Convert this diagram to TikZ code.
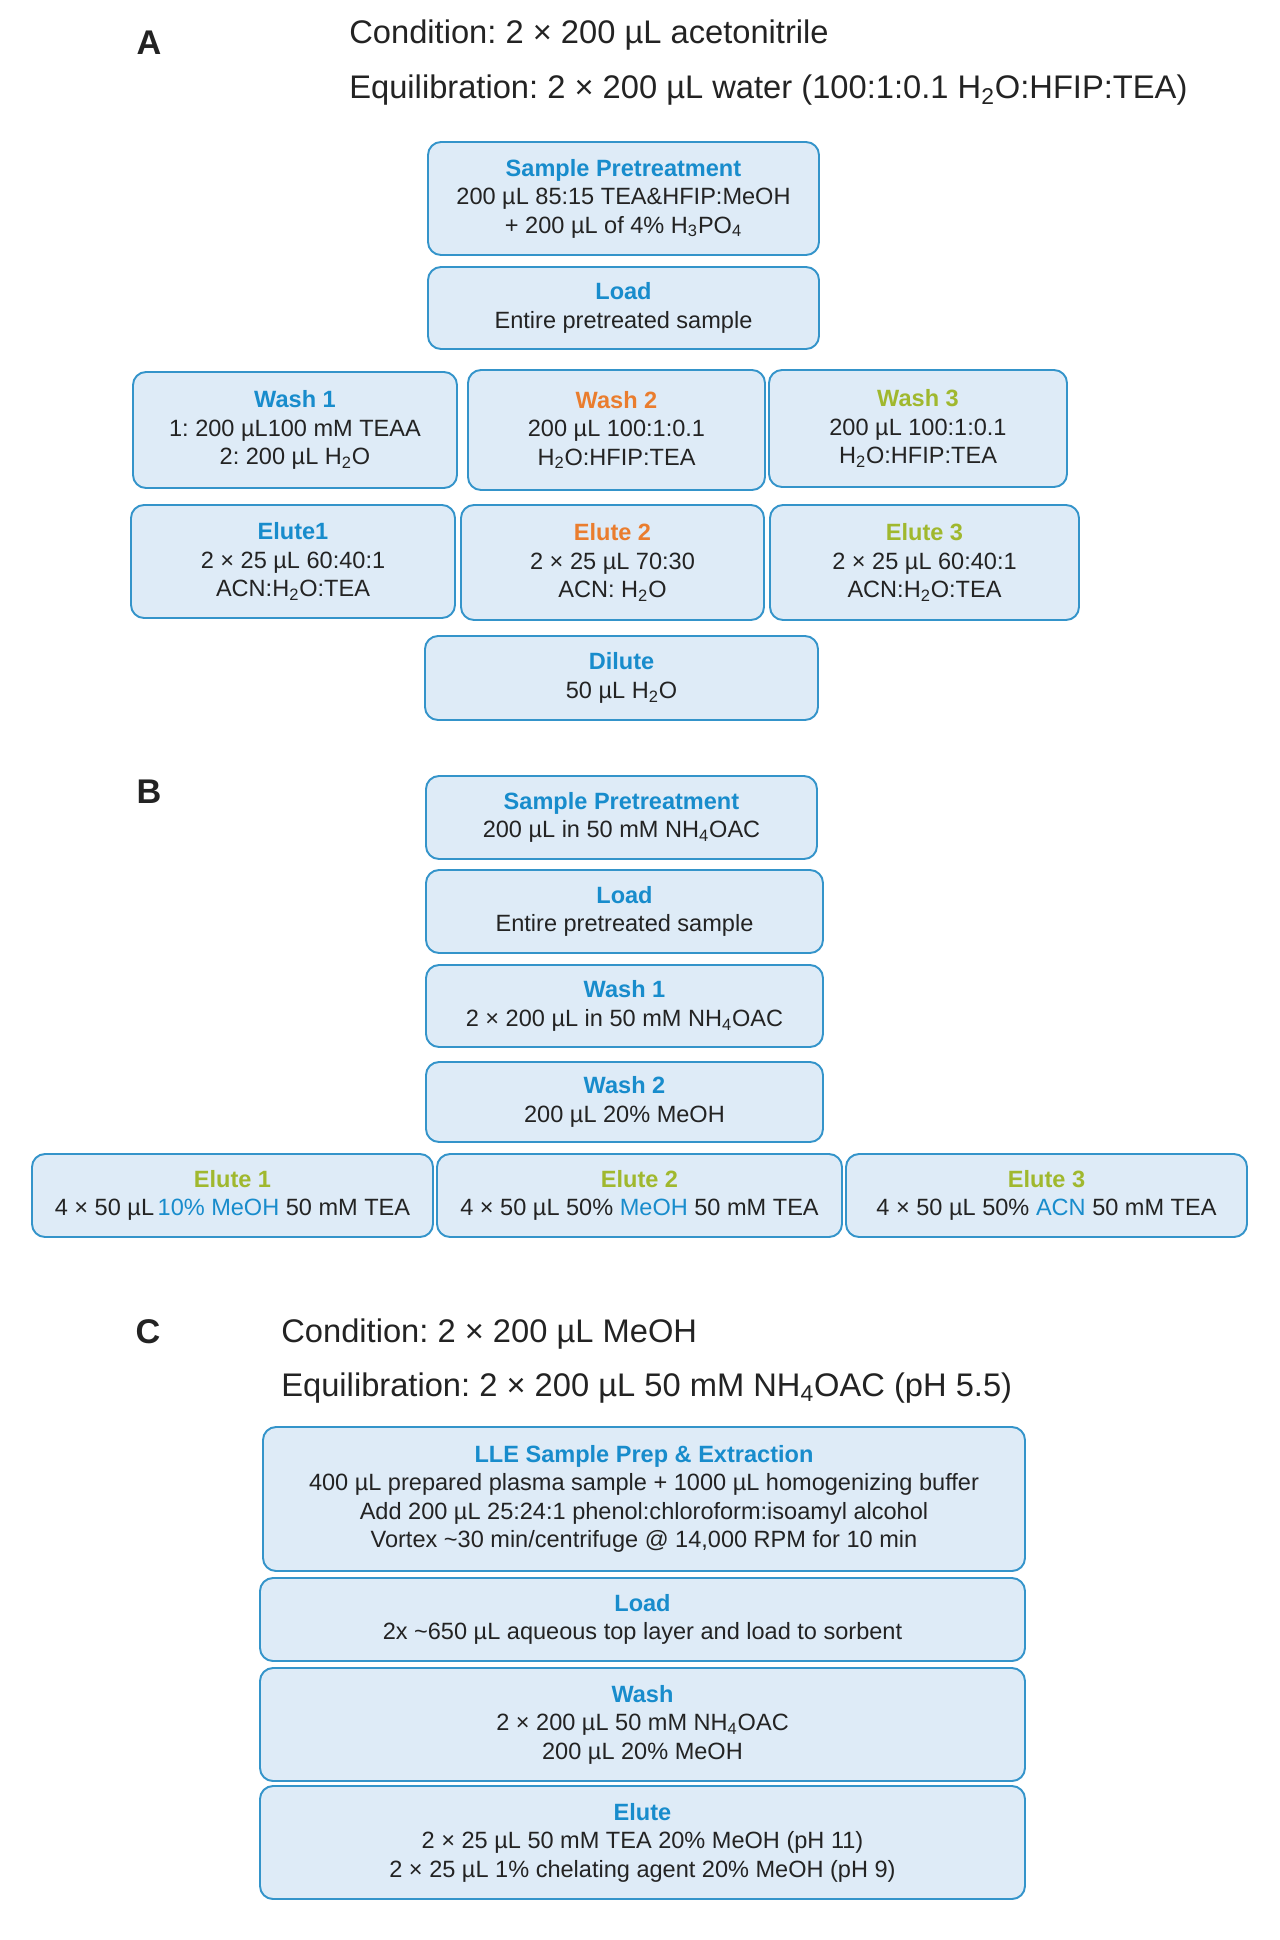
\documentclass[tikz,border=0pt]{standalone}
\usepackage{fontspec}
\setmainfont{Liberation Sans}
\frenchspacing

\definecolor{stepblue}{RGB}{24,140,204}
\definecolor{steporange}{RGB}{234,125,46}
\definecolor{stepgreen}{RGB}{160,184,46}
\definecolor{boxfill}{RGB}{222,235,247}
\definecolor{boxline}{RGB}{52,148,202}
\definecolor{bodytext}{RGB}{35,35,35}

\newcommand{\ssub}[1]{\textsubscript{#1}}
\newcommand{\steptitle}[2]{{\bfseries\color{#1}#2}}

\begin{document}
\begin{tikzpicture}[x=0.02cm, y=-0.02cm,
    every node/.style={font=\fontsize{13.4}{16.2}\selectfont, text=bodytext},
    panelbox/.style 2 args={draw=boxline, fill=boxfill, line width=1.1pt, rounded corners=7.4pt,
        align=center, inner sep=0pt, minimum width=#1*0.02cm, minimum height=#2*0.02cm},
    headline/.style={anchor=base west, inner sep=0pt, font=\fontsize{18.6}{22}\selectfont},
    panellabel/.style={font=\fontsize{19.5}{22}\selectfont\bfseries}]
    \useasboundingbox (0,0) rectangle (1280,1940);

    % Panel A: conditioning
    \node[panellabel] (labA) at (149,43) {A};
    \node[headline] (condA) at (349,44) {Condition: 2 × 200 µL acetonitrile};
    \node[headline] (equiA) at (349,99) {Equilibration: 2 × 200 µL water (100:1:0.1 H\ssub{2}O:HFIP:TEA)};

    % Panel A: pretreatment and load
    \node[panelbox={391}{113}] (aPre) at (623.5,198.5) {\steptitle{stepblue}{Sample Pretreatment}\\ 200 µL 85:15 TEA\&HFIP:MeOH\\ + 200 µL of 4\% H\ssub{3}PO\ssub{4}};
    \node[panelbox={391}{82}] (aLoad) at (623.5,308) {\steptitle{stepblue}{Load}\\ Entire pretreated sample};

    % Panel A: washes
    \node[panelbox={324}{116}] (aWashA) at (295,430) {\steptitle{stepblue}{Wash 1}\\ 1: 200 µL100 mM TEAA\\ 2: 200 µL H\ssub{2}O};
    \node[panelbox={297}{120}] (aWashB) at (616.5,430) {\steptitle{steporange}{Wash 2}\\ 200 µL 100:1:0.1\\ H\ssub{2}O:HFIP:TEA};
    \node[panelbox={298}{117}] (aWashC) at (918,428.5) {\steptitle{stepgreen}{Wash 3}\\ 200 µL 100:1:0.1\\ H\ssub{2}O:HFIP:TEA};

    % Panel A: elutions
    \node[panelbox={324}{113}] (aEluteA) at (293,561.5) {\steptitle{stepblue}{Elute1}\\ 2 × 25 µL 60:40:1\\ ACN:H\ssub{2}O:TEA};
    \node[panelbox={303}{115}] (aEluteB) at (612.5,562.5) {\steptitle{steporange}{Elute 2}\\ 2 × 25 µL 70:30\\ ACN: H\ssub{2}O};
    \node[panelbox={309}{115}] (aEluteC) at (924.5,562.5) {\steptitle{stepgreen}{Elute 3}\\ 2 × 25 µL 60:40:1\\ ACN:H\ssub{2}O:TEA};

    % Panel A: dilution
    \node[panelbox={393}{84}] (aDilute) at (621.5,678) {\steptitle{stepblue}{Dilute}\\ 50 µL H\ssub{2}O};

    % Panel B: single column of steps
    \node[panellabel] (labB) at (149,792) {B};
    \node[panelbox={391}{83}] (bPre) at (621.5,817.5) {\steptitle{stepblue}{Sample Pretreatment}\\ 200 µL in 50 mM NH\ssub{4}OAC};
    \node[panelbox={397}{83}] (bLoad) at (624.5,911.5) {\steptitle{stepblue}{Load}\\ Entire pretreated sample};
    \node[panelbox={397}{82}] (bWashA) at (624.5,1006) {\steptitle{stepblue}{Wash 1}\\ 2 × 200 µL in 50 mM NH\ssub{4}OAC};
    \node[panelbox={397}{80}] (bWashB) at (624.5,1102) {\steptitle{stepblue}{Wash 2}\\ 200 µL 20\% MeOH};

    % Panel B: elutions side by side
    \node[panelbox={401}{83}] (bEluteA) at (232.5,1195.5) {\steptitle{stepgreen}{Elute 1}\\ 4 × 50 µL\kern2pt{\color{stepblue}10\% MeOH} 50 mM TEA};
    \node[panelbox={405}{83}] (bEluteB) at (639.5,1195.5) {\steptitle{stepgreen}{Elute 2}\\ 4 × 50 µL 50\% {\color{stepblue}MeOH} 50 mM TEA};
    \node[panelbox={401}{83}] (bEluteC) at (1046.5,1195.5) {\steptitle{stepgreen}{Elute 3}\\ 4 × 50 µL 50\% {\color{stepblue}ACN} 50 mM TEA};

    % Panel C: conditioning
    \node[panellabel] (labC) at (148,1332) {C};
    \node[headline] (condC) at (281,1342) {Condition: 2 × 200 µL MeOH};
    \node[headline] (equiC) at (281,1396) {Equilibration: 2 × 200 µL 50 mM NH\ssub{4}OAC (pH 5.5)};

    % Panel C: extraction steps
    \node[panelbox={762}{144}] (cPrep) at (644,1499) {\steptitle{stepblue}{LLE Sample Prep \& Extraction}\\ 400 µL prepared plasma sample + 1000 µL homogenizing buffer\\ Add 200 µL 25:24:1 phenol:chloroform:isoamyl alcohol\\ Vortex \textasciitilde30 min/centrifuge @ 14,000 RPM for 10 min};
    \node[panelbox={765}{83}] (cLoad) at (642.5,1619.5) {\steptitle{stepblue}{Load}\\ 2x \textasciitilde650 µL aqueous top layer and load to sorbent};
    \node[panelbox={765}{113}] (cWash) at (642.5,1724.5) {\steptitle{stepblue}{Wash}\\ 2 × 200 µL 50 mM NH\ssub{4}OAC\\ 200 µL 20\% MeOH};
    \node[panelbox={765}{113}] (cElute) at (642.5,1842.5) {\steptitle{stepblue}{Elute}\\ 2 × 25 µL 50 mM TEA 20\% MeOH (pH 11)\\ 2 × 25 µL 1\% chelating agent 20\% MeOH (pH 9)};
\end{tikzpicture}
\end{document}
